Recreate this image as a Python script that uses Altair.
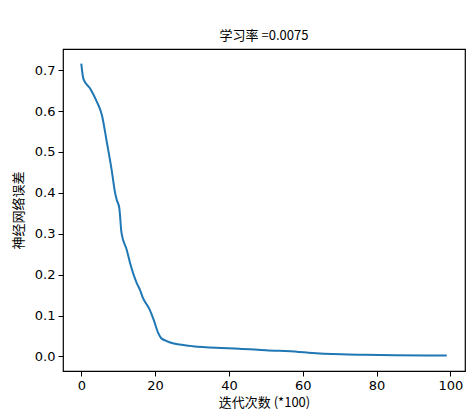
import altair as alt
import pandas as pd

# iteration (*100) and network error
iters = [0, 0.6, 2.4, 4.2, 5.6, 6.9, 8.3, 9.1, 9.6, 10.3, 10.9, 12.3, 13.2, 15.0,
         15.9, 16.7, 18.5, 19.6, 20.8, 21.6, 23.0, 24.8, 26.6, 30.2, 36.5, 42.7,
         50, 58.9, 61.6, 70.4, 76.8, 85, 99]
errors = [0.716, 0.678, 0.655, 0.623, 0.590, 0.525, 0.452, 0.403, 0.383, 0.363,
          0.302, 0.261, 0.229, 0.180, 0.163, 0.143, 0.115, 0.090, 0.058, 0.045,
          0.038, 0.032, 0.029, 0.025, 0.021, 0.019, 0.015, 0.011, 0.009, 0.005,
          0.004, 0.003, 0.002]
x_ticks = [0, 20, 40, 60, 80, 100]
y_ticks = [0.0, 0.1, 0.2, 0.3, 0.4, 0.5, 0.6, 0.7]

df = pd.DataFrame({"iter": iters, "err": errors})

cjk = "Noto Sans CJK SC"
num = "DejaVu Sans"

chart = alt.Chart(df).mark_line(color="#1f77b4", strokeWidth=2, interpolate="monotone").encode(
    x=alt.X("iter:Q",
            scale=alt.Scale(domain=[-4.95, 103.95], nice=False, zero=False),
            axis=alt.Axis(values=x_ticks, title="迭代次数 (*100)", grid=False,
                          tickSize=5, tickColor="black", domain=False,
                          labelFont=num, labelFontSize=13, labelColor="black",
                          labelPadding=3, titleFont=cjk, titleFontSize=13,
                          titleFontWeight="normal", titleColor="black",
                          titlePadding=4)),
    y=alt.Y("err:Q",
            scale=alt.Scale(domain=[-0.0357, 0.7518], nice=False, zero=False),
            axis=alt.Axis(values=y_ticks, format=".1f", title="神经网络误差", grid=False,
                          tickSize=5, tickColor="black", domain=False,
                          labelFont=num, labelFontSize=13, labelColor="black",
                          labelPadding=3, titleFont=cjk, titleFontSize=13,
                          titleFontWeight="normal", titleColor="black",
                          titlePadding=9)),
).properties(
    width=402,
    height=322,
    title=alt.TitleParams("学习率 =0.0075", font=cjk, fontSize=13,
                          fontWeight="normal", color="black", offset=6),
    autosize=alt.AutoSizeParams(type="none"),
    padding={"left": 55, "top": 41, "right": 1, "bottom": 38},
).configure_view(stroke="black", strokeWidth=1.2)

chart.save("out.html", embed_options={"renderer": "svg", "actions": False})
